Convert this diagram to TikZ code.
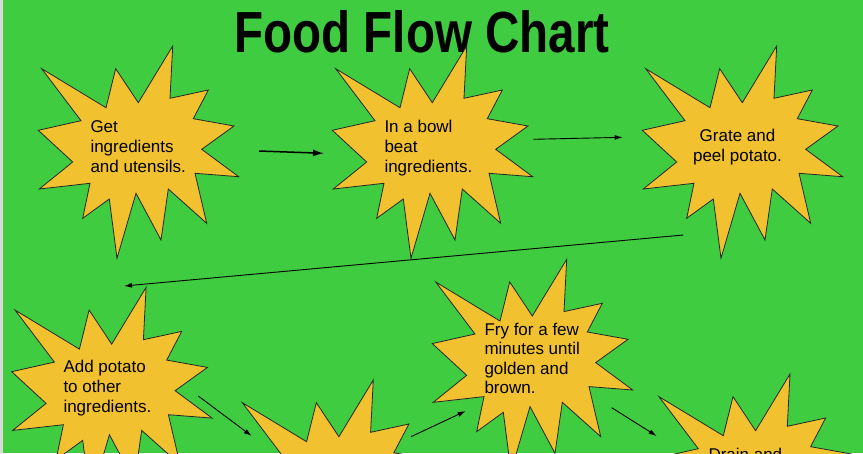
\documentclass[tikz,border=0pt]{standalone}
\usepackage{fontspec}
\setmainfont{Liberation Sans}
\newfontfamily\titlefont[FakeStretch=0.82]{Liberation Sans}
\usetikzlibrary{arrows.meta}
\definecolor{lawn}{RGB}{64,204,64}
\definecolor{mustard}{RGB}{242,193,48}

% twelve-point burst, drawn round the point given
\newcommand{\starburst}[1]{%
  \draw [fill=mustard, draw=black!85, line width=0.8pt, shift={(#1)}]
    (34.7,-106) -- (32,-53.7) -- (70.3,-62) -- (55.3,-33.3) -- (96,-26) -- (63.7,-2.7)
    -- (100.7,24.7) -- (57,21.3) -- (68.7,71.3) -- (30.3,37) -- (23,88) -- (-2,41.3)
    -- (-21,106.3) -- (-28.7,47) -- (-55.3,66.3) -- (-48,31.3) -- (-98.7,37) -- (-65.3,10)
    -- (-99.7,-21.7) -- (-57,-31.3) -- (-96.3,-83.3) -- (-32,-44.3) -- (-22.3,-83.3) -- (0.3,-49.3)
    -- cycle;}

\begin{document}
\begin{tikzpicture}[x=1pt, y=-1pt, >={Latex[length=8pt,width=5pt]}]
        \clip (0,0) rectangle (863,453);
        \fill [lawn] (0,0) rectangle (863,453);
        \fill [black!15] (0,0) rectangle (3,453);
        \node [font=\titlefont\bfseries\fontsize{58}{60}\selectfont, anchor=base, inner sep=0, name=title] at (422,52.7) {Food Flow Chart};
        \starburst{138,152}
        \starburst{432,152}
        \starburst{742,152}
        \starburst{111.4,393.4}
        \starburst{338.6,486}
        \starburst{532,365.3}
        \starburst{755.3,480}
        % multi-line nodes sit on the baseline of their last line
        \tikzset{say/.style={font=\fontsize{17}{20}\selectfont, inner sep=0, align=left, anchor=base west}}
        \node [say, name=get] at (90.3,172) {Get\\ingredients\\and utensils.};
        \node [say, name=bowl] at (384.3,172) {In a bowl\\beat\\ingredients.};
        \node [say, align=center, anchor=base, name=grate] at (737.5,161.7) {Grate and\\peel potato.};
        \node [say, name=add] at (63.3,412) {Add potato\\to other\\ingredients.};
        \node [say, font=\fontsize{17}{19.5}\selectfont, name=fry] at (484.3,393.5) {Fry for a few\\minutes until\\golden and\\brown.};
        \node [say, name=drain] at (708.3,460) {Drain and};
        \coordinate (get_out) at (259,151);
        \coordinate (bowl_in) at (324,153.3);
        \coordinate (bowl_out) at (533.3,139.3);
        \coordinate (grate_in) at (622.7,137.3);
        \coordinate (grate_out) at (683.3,235);
        \coordinate (add_in) at (124,286);
        \coordinate (add_out) at (198.3,396);
        \coordinate (mid_in) at (251.7,436);
        \coordinate (mid_out) at (411,436.7);
        \coordinate (fry_in) at (465.7,411);
        \coordinate (fry_out) at (611.7,407.7);
        \coordinate (drain_in) at (656.7,436);
        \draw [-{Latex[length=11pt,width=7pt]}, line width=1.5pt] (get_out) -- (bowl_in);
        \draw [->, line width=0.9pt] (bowl_out) -- (grate_in);
        \draw [->, line width=0.9pt] (grate_out) -- (add_in);
        \draw [->, line width=0.9pt] (add_out) -- (mid_in);
        \draw [->, line width=0.9pt] (mid_out) -- (fry_in);
        \draw [->, line width=0.9pt] (fry_out) -- (drain_in);
\end{tikzpicture}
\end{document}
